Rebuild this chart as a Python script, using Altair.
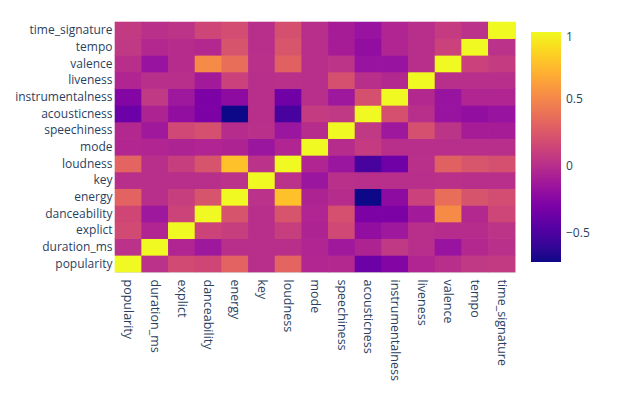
import altair as alt
import pandas as pd

variables = ["popularity", "duration_ms", "explict", "danceability", "energy", "key",
             "loudness", "mode", "speechiness", "acousticness", "instrumentalness",
             "liveness", "valence", "tempo", "time_signature"]

# lower triangle of the correlation matrix (row i, columns 0..i-1)
lower = [
    [],
    [0.02],
    [0.17, -0.05],
    [0.15, -0.14, 0.13],
    [0.31, 0.00, 0.10, 0.22],
    [0.00, 0.00, 0.00, 0.00, 0.02],
    [0.32, 0.00, 0.10, 0.22, 0.77, 0.02],
    [-0.04, -0.05, -0.06, -0.05, -0.06, -0.15, -0.05],
    [-0.03, -0.13, 0.16, 0.20, -0.01, 0.01, -0.15, -0.01],
    [-0.37, -0.06, -0.20, -0.30, -0.72, 0.00, -0.52, 0.08, 0.06],
    [-0.27, 0.06, -0.14, -0.30, -0.22, 0.00, -0.35, 0.00, -0.14, 0.20],
    [-0.05, 0.00, 0.00, -0.12, 0.12, 0.00, 0.01, 0.00, 0.20, 0.00, -0.03],
    [0.00, -0.17, -0.01, 0.52, 0.37, 0.01, 0.30, 0.00, 0.03, -0.17, -0.17, 0.00],
    [0.06, -0.03, -0.01, -0.03, 0.22, 0.00, 0.23, 0.00, -0.10, -0.20, -0.05, 0.00, 0.12],
    [0.07, 0.01, 0.03, 0.14, 0.18, 0.00, 0.20, 0.00, -0.10, -0.17, -0.05, 0.00, 0.08, 0.02],
]

colorbar_ticks = [1, 0.5, 0, -0.5]
plasma = ["#0d0887", "#46039f", "#7201a8", "#9c179e", "#bd3786",
          "#d8576b", "#ed7953", "#fb9f3a", "#fdca26", "#f0f921"]

n = len(variables)
M = [[1.0] * n for _ in range(n)]
for i, row in enumerate(lower):
    for j, v in enumerate(row):
        M[i][j] = v
        M[j][i] = v

records = []
for i in range(n):
    for j in range(n):
        records.append({"x": variables[j], "y": variables[i], "v": M[i][j]})
df = pd.DataFrame(records)

zmin = min(min(r) for r in M)
zmax = 1.0
domain = [zmin + (zmax - zmin) * k / 9 for k in range(10)]

font = "Open Sans"
txt = "#2a3f5f"
cscale = alt.Scale(domain=domain, range=plasma)

W, H = 400, 250
chart = alt.Chart(df).mark_rect(width=W / n + 0.6, height=H / n + 0.6).encode(
    x=alt.X("x:N", sort=variables, title=None,
            axis=alt.Axis(labelAngle=90, domain=False, ticks=False, labelPadding=7,
                          labelFontSize=12.5, labelColor=txt, labelFont=font)),
    y=alt.Y("y:N", sort=list(reversed(variables)), title=None,
            axis=alt.Axis(domain=False, ticks=False, labelPadding=3,
                          labelFontSize=12, labelColor=txt, labelFont=font)),
    color=alt.Color("v:Q", scale=cscale,
                    legend=alt.Legend(title=None, orient="none",
                                      legendX=416, legendY=10,
                                      direction="vertical", gradientLength=230,
                                      gradientThickness=30, gradientStrokeWidth=0,
                                      values=colorbar_ticks, labelOverlap=False,
                                      format="~g",
                                      labelFontSize=12, labelColor=txt, labelFont=font,
                                      labelOffset=5)),
).properties(
    width=W, height=H,
    autosize=alt.AutoSizeParams(type="none"),
    padding={"left": 107, "top": 14, "right": 100, "bottom": 114},
).configure_view(stroke=None).configure(background="white")

chart.save("out.html", embed_options={"renderer": "svg", "actions": False})
